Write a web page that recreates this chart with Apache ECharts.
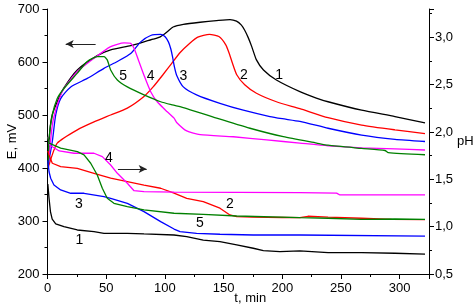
<!DOCTYPE html>
<html><head><meta charset="utf-8">
<script src="https://cdn.jsdelivr.net/npm/echarts@6/dist/echarts.min.js"></script>
<style>html,body{margin:0;padding:0;background:#fff}#c{width:474px;height:307px}</style>
</head><body><div id="c"></div>
<script>
// ---- data (t in min) ----
const curveNames = ['1','2','3','4','5'];
const colors = ['#000000','#ff0000','#0000ff','#ff00ff','#008000'];
const xTickValues = [0,50,100,150,200,250,300];
const eTickValues = [200,300,400,500,600,700];
const phTickValues = [0.5,1.0,1.5,2.0,2.5,3.0];
const phTickLabels = ['0,5','1,0','1,5','2,0','2,5','3,0'];

// E, mV (left axis)
const E1 = [[0.5,410],[2,470],[4,500],[8.3,525],[14,551],[25.4,585],[42.4,612],[53.8,623],[70.9,631],[82.2,638],[90,643],[96.4,648],[102,657],[107,666],[115.7,671],[130,675],[144,678],[155.5,680],[161,677],[165,670],[168,660],[171,646],[174,629],[178,604],[184,585],[195,566],[215,544],[229,532],[239,525],[267.6,509],[296,497],[321.6,485]];
const E2 = [[0.5,400],[3,418],[8.3,447],[25.4,472],[39.6,487],[53.8,500],[68,513],[82.2,535],[90,553],[98,575],[106,598],[113,618],[121,635],[128,647],[138,652],[146,648],[152,632],[155,615],[157.5,598],[161.2,576],[168,557],[178,541],[195,525],[215,512],[239,495],[267.6,481],[296,472],[321.6,465]];
const E3 = [[0.5,405],[4.1,450],[7,500],[11.2,531],[19.8,553],[33.9,569],[48.1,588],[59.5,601],[70.9,616],[79.4,638],[87.9,650],[96.4,652],[100,648],[103,638],[105,625],[106.5,610],[108,592],[110,575],[115.7,553],[127,538],[146.9,522],[166.8,509],[189.5,497],[200,493],[215,488],[239,475],[267.6,462],[296,454],[321.6,450]];
const E4 = [[0.5,400],[4.1,481],[8.3,519],[14,550],[25.4,582],[39.6,607],[53.8,629],[65.2,636],[70.9,635],[73.7,626],[77.9,601],[82.2,575],[87.9,544],[93.5,525],[102,506],[107.8,494],[110,486],[118.6,470],[130,463],[158.3,459],[186.7,453],[215,447],[239,442],[267.6,438],[296,436],[321.6,434]];
const E5 = [[0.5,400],[1.3,456],[4.1,500],[8.3,531],[14,550],[25.4,579],[33.9,601],[42.4,610],[48.1,610],[50.9,604],[53.8,585],[59.5,566],[68,553],[82.2,538],[96.4,525],[106.3,519],[115.7,514],[144.1,494],[172.5,475],[200.9,459],[229.3,447],[239,443],[267.6,437],[287.5,433],[290.3,429],[321.6,425]];

// pH (right axis)
const P1 = [[0.3,1.45],[1.3,1.30],[2.5,1.16],[4,1.08],[7,1.03],[14,1.0],[25.4,0.965],[39.6,0.947],[48.1,0.93],[68,0.93],[82.2,0.923],[107.8,0.912],[118.6,0.894],[132.7,0.859],[146.9,0.841],[161.2,0.807],[175.3,0.772],[183.9,0.747],[198,0.736],[215,0.745],[239,0.725],[267.6,0.725],[296,0.719],[321.6,0.711]];
const P2 = [[0.3,1.80],[1.3,1.758],[4.1,1.67],[11.2,1.634],[25.4,1.617],[39.6,1.564],[53.8,1.512],[68,1.476],[82.2,1.44],[96.4,1.406],[107.8,1.355],[118.6,1.30],[132.7,1.264],[146.9,1.195],[155.4,1.124],[161.2,1.106],[175,1.10],[200,1.097],[215,1.095],[221.9,1.11],[239,1.10],[267.6,1.089],[293.2,1.078],[321.6,1.075]];
const P3 = [[0.3,1.70],[1.3,1.58],[2.7,1.512],[5.5,1.44],[11.2,1.388],[19.8,1.353],[31.1,1.353],[48.1,1.317],[53.8,1.30],[68,1.247],[82.2,1.159],[96.4,1.053],[107.8,0.975],[112.9,0.947],[127,0.93],[146.9,0.92],[175.3,0.912],[215,0.912],[321.6,0.90]];
const P4 = [[0.3,1.95],[2,1.86],[10,1.80],[22.6,1.776],[39.6,1.776],[46.7,1.74],[53.8,1.652],[59.5,1.564],[68,1.459],[73.7,1.38],[82.2,1.37],[107.8,1.365],[215,1.36],[246.3,1.355],[249.1,1.335],[321.6,1.335]];
const P5 = [[0.3,1.95],[1.3,1.882],[11.2,1.829],[25.4,1.793],[31.1,1.758],[36.8,1.67],[42.4,1.546],[46.7,1.406],[50.9,1.30],[56.6,1.247],[68,1.212],[82.2,1.177],[107.8,1.142],[132.7,1.131],[161.2,1.113],[215,1.095],[239,1.089],[267.6,1.078],[296,1.081],[321.6,1.078]];

// curve number labels [t, value]
const eLabelPos = [[197.4,575],[167.4,575],[115.7,574],[87.9,574],[64.4,574]];
const phLabelPos = [[27.1,0.86],[155.4,1.237],[26.8,1.237],[52.4,1.729],[129.9,1.042]];
const eArrow = [[41,634],[15.5,634]];
const phArrow = [[60,1.61],[84.5,1.61]];

const FONT = 'Liberation Sans, Arial, sans-serif';
const Es = [E1,E2,E3,E4,E5];
const Ps = [P1,P2,P3,P4,P5];

const series = [];
Es.forEach((d,i)=>{
  const s = {type:'line', yAxisIndex:0, data:d, showSymbol:false, smooth:0.2,
    lineStyle:{color:colors[i], width:1.3}, itemStyle:{color:colors[i]}, z:2,
    markPoint:{symbol:'circle', symbolSize:0, silent:true,
      label:{show:true, position:'inside', color:'#000', fontSize:14, fontFamily:FONT, formatter:curveNames[i]},
      data:[{coord:eLabelPos[i], value:curveNames[i]}]}};
  if(i===0){ s.markLine = {silent:true, symbol:['none','arrow'], symbolSize:[6,8], label:{show:false},
      lineStyle:{color:'#222', width:1, type:'solid'}, data:[[{coord:eArrow[0]},{coord:eArrow[1]}]]}; }
  series.push(s);
});
Ps.forEach((d,i)=>{
  const s = {type:'line', yAxisIndex:1, data:d, showSymbol:false, smooth:false,
    lineStyle:{color:colors[i], width:1.3}, itemStyle:{color:colors[i]}, z:2,
    markPoint:{symbol:'circle', symbolSize:0, silent:true,
      label:{show:true, position:'inside', color:'#000', fontSize:14, fontFamily:FONT, formatter:curveNames[i]},
      data:[{coord:phLabelPos[i], value:curveNames[i]}]}};
  if(i===0){ s.markLine = {silent:true, symbol:['none','arrow'], symbolSize:[6,8], label:{show:false},
      lineStyle:{color:'#222', width:1, type:'solid'}, data:[[{coord:phArrow[0]},{coord:phArrow[1]}]]}; }
  series.push(s);
});

const axisCommon = {
  axisLine:{show:true, onZero:false, lineStyle:{color:'#000', width:1}},
  axisTick:{show:true, inside:false, length:5, lineStyle:{color:'#000'}},
  minorTick:{show:true, splitNumber:2, length:3, lineStyle:{color:'#000'}},
  splitLine:{show:false},
  nameMoveOverlap:false
};

const chart = echarts.init(document.getElementById('c'), null, {renderer:'canvas'});
chart.setOption({
  animation:false,
  backgroundColor:'#fff',
  grid:{left:47.5, right:45, top:9, bottom:33, containLabel:false, outerBoundsMode:'none'},
  xAxis:Object.assign({type:'value', min:0, max:325, interval:50,
    name:'t, min', nameLocation:'middle', nameGap:18,
    nameTextStyle:{color:'#000', fontSize:13, fontFamily:FONT, padding:[0,0,0,24]},
    axisLabel:{color:'#000', fontSize:13, fontFamily:FONT, margin:8, showMaxLabel:false,
      formatter:v=> xTickValues.includes(v) ? String(v) : ''}}, axisCommon),
  yAxis:[
    Object.assign({type:'value', position:'left', min:200, max:700, interval:100,
      name:'E, mV', nameLocation:'middle', nameGap:29, nameRotate:90,
      nameTextStyle:{color:'#000', fontSize:13, fontFamily:FONT},
      axisLabel:{color:'#000', fontSize:13, fontFamily:FONT, margin:8,
        formatter:v=> eTickValues.includes(v) ? String(v) : ''}}, axisCommon),
    Object.assign({type:'value', position:'right', min:0.5, max:3.3, interval:0.5,
      name:'pH', nameLocation:'middle', nameGap:28, nameRotate:0,
      nameTextStyle:{color:'#000', fontSize:13, fontFamily:FONT},
      axisLabel:{color:'#000', fontSize:13, fontFamily:FONT, margin:6, showMaxLabel:false,
        formatter:v=>{ const k = phTickValues.findIndex(p=>Math.abs(p-v)<1e-6); return k>=0 ? phTickLabels[k] : ''; }}}, axisCommon)
  ],
  series:series
});
</script></body></html>
